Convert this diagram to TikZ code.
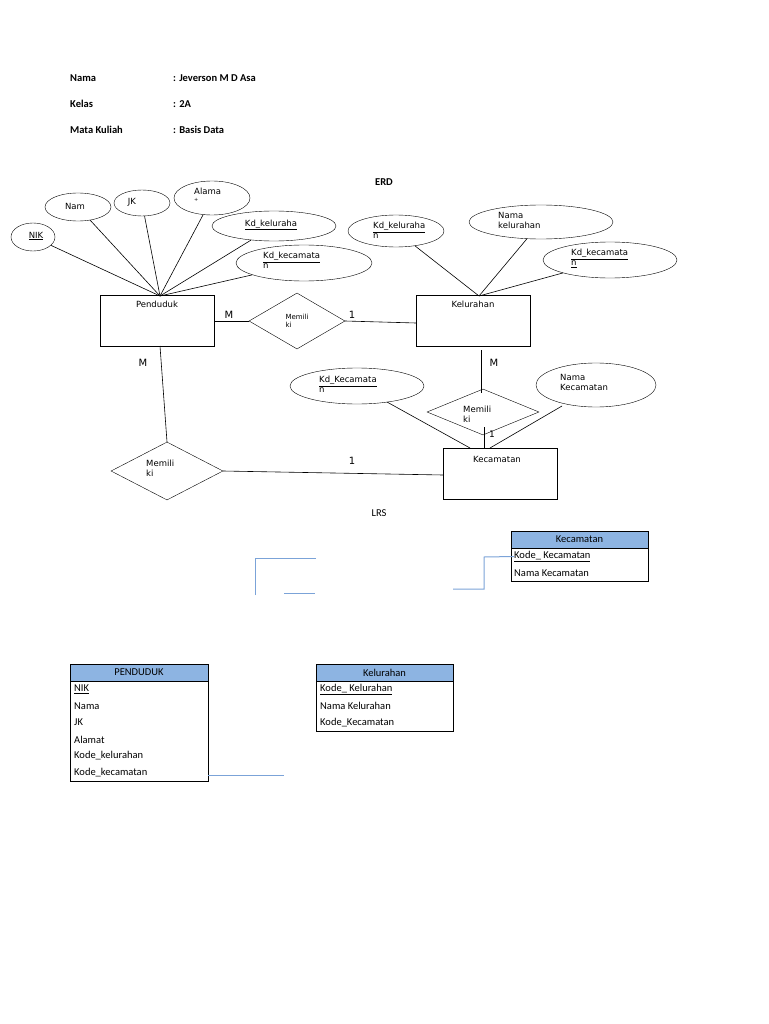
\documentclass[tikz,border=0pt]{standalone}
\usepackage{fontspec}
\setmainfont{DejaVu Sans}
\newfontfamily\calfnt{Carlito}
\usetikzlibrary{shapes.geometric}
\definecolor{hdr}{HTML}{8DB4E2}
\definecolor{lnk}{HTML}{7BA3D8}
\begin{document}
\begin{tikzpicture}[x=1pt,y=-1pt,
 ell/.style={draw,ellipse,minimum width=#1,inner sep=0pt},
 ent/.style={draw,minimum width=114pt,minimum height=51pt,inner sep=0pt},
 rel/.style={draw,diamond,aspect=2,inner sep=0pt},
 t/.style={font=\fontsize{8.5}{10}\selectfont,inner sep=0pt,align=left},
 h/.style={font=\calfnt\bfseries\fontsize{10.5}{12}\selectfont,anchor=west,inner sep=0pt},
 c/.style={font=\calfnt\fontsize{10.5}{12}\selectfont,anchor=west,inner sep=0pt},
 er/.style={line width=0.6pt}]
\useasboundingbox (0,0) rectangle (768,1024);
\fill[white] (0,0) rectangle (768,1024);
% header
\node[h] at (70,78) {Nama}; \node[h] at (173,78) {: Jeverson M D Asa};
\node[h] at (70,104) {Kelas}; \node[h] at (173,104) {: 2A};
\node[h] at (70,130) {Mata Kuliah}; \node[h] at (173,130) {: Basis Data};
\node[h,anchor=center] at (384,182) {ERD};
% Penduduk attributes
\node[ell=44pt,minimum height=28pt] (nik) at (33,237) {};
\node[t] at (36,236) {\underline{NIK}};
\node[ell=66pt,minimum height=28pt] (nam) at (78,207) {};
\node[t] at (75,206) {Nam};
\node[ell=56pt,minimum height=26pt] (jk) at (142,203) {};
\node[t] at (132,202) {JK};
\node[ell=76pt,minimum height=34pt] (alm) at (212,198) {};
\node[t,anchor=north west] at (194,188) {Alama\\[-3pt]\tiny +};
\node[ell=124pt,minimum height=30pt] (kkl) at (274,226) {};
\node[t] at (271,225) {\underline{Kd\_keluraha}};
\node[ell=136pt,minimum height=36pt] (kkc) at (304,263) {};
\node[t,anchor=north west] at (263,252) {\underline{Kd\_kecamata}\\n};
\node[ent] (pen) at (157,321) {};
\node[t] at (157,304) {Penduduk};
\coordinate (pt) at (160,296);
\foreach \a in {nik,nam,jk,alm,kkl,kkc} \draw[er] (\a) -- (pt);
% relationship 1
\node[rel,minimum width=96pt,minimum height=56pt] (r1) at (297,321) {};
\node[t,font=\fontsize{7}{8}\selectfont] at (297,321) {Memili\\ki};
\node[ent] (kel) at (473,321) {};
\node[t] at (473,304) {Kelurahan};
\draw[er] (pen.east) -- (r1.west);
\draw[er] (r1.east) -- (416,323);
\node[t,font=\fontsize{10}{12}\selectfont] at (229,315) {M};
\node[t,font=\fontsize{10}{12}\selectfont] at (352,315) {1};
% Kelurahan attributes
\node[ell=96pt,minimum height=32pt] (kkl2) at (396,231) {};
\node[t,anchor=north west] at (373,222) {\underline{Kd\_keluraha}\\n};
\node[ell=144pt,minimum height=34pt] (nkl) at (541,222) {};
\begin{scope}
\clip (470,205) rectangle (610,230);
\node[t,anchor=north west] at (498,212) {Nama\\kelurahan};
\end{scope}
\node[ell=134pt,minimum height=36pt] (kkc2) at (610,260) {};
\node[t,anchor=north west] at (571,249) {\underline{Kd\_kecamata}\\\underline{n}};
\coordinate (kt) at (479,296);
\foreach \a in {kkl2,nkl,kkc2} \draw[er] (\a) -- (kt);
% relationship 2
\node[rel,minimum width=112pt,minimum height=46pt] (r2) at (483,412) {};
\begin{scope}
\clip (440,400) rectangle (530,421);
\node[t,anchor=north west] at (463,406) {Memili\\ki};
\end{scope}
\coordinate (k1) at (481,350); \coordinate (k2) at (481,393);
\draw[er] (k1) -- (k2);
\node[t,font=\fontsize{10}{12}\selectfont] at (494,363) {M};
\node[ent] (kec) at (500,474) {};
\node[t] at (497,459) {Kecamatan};
\coordinate (k3) at (484,427); \coordinate (k4) at (484,448);
\draw[er] (k3) -- (k4);
\node[t,font=\fontsize{9}{10}\selectfont] at (492,434) {1};
\node[ell=134pt,minimum height=36pt] (kkc3) at (357,386) {};
\node[t,anchor=north west] at (319,376) {\underline{Kd\_Kecamata}\\n};
\node[ell=120pt,minimum height=44pt] (nkc) at (596,385) {};
\node[t,anchor=north west] at (560,374) {Nama\\Kecamatan};
\coordinate (ka) at (470,448); \coordinate (kb) at (490,448);
\draw[er] (387,402) -- (ka);
\draw[er] (562,406) -- (kb);
% relationship 3
\node[rel,minimum width=112pt,minimum height=58pt] (r3) at (167,471) {};
\node[t,anchor=north west] at (146,460) {Memili\\ki};
\coordinate (p1) at (160,346);
\draw[er] (p1) -- (r3.north);
\node[t,font=\fontsize{10}{12}\selectfont] at (143,363) {M};
\coordinate (ke) at (443,475);
\draw[er] (r3.east) -- (ke);
\node[t,font=\fontsize{10}{12}\selectfont] at (352,461) {1};
% LRS
\node[c,anchor=center] at (379,513) {LRS};
% Kecamatan table
\draw[fill=hdr] (511,531) rectangle (648,548);
\draw (511,548) rectangle (648,581);
\node[c,anchor=center] at (579.5,539.5) {Kecamatan};
\node[c] (kkode) at (514,556.5) {\underline{Kode\_ Kecamatan}};
\node[c] at (514,573) {Nama Kecamatan};
\coordinate (l1) at (453,589);
\draw[lnk,line width=1pt] (kkode.west) -- (484,557) -- (484,589) -- (l1);
\coordinate (l2) at (255,595); \coordinate (l3) at (316,558);
\draw[lnk,line width=1pt] (l2) -- (255,558) -- (l3);
\coordinate (l4) at (284,593); \coordinate (l5) at (315,593);
\draw[lnk,line width=1pt] (l4) -- (l5);
% PENDUDUK table
\draw[fill=hdr] (70,664) rectangle (208,681);
\draw (70,681) rectangle (208,781);
\node[c,anchor=center] at (139,672.5) {PENDUDUK};
\node[c] at (74,689.5) {\underline{NIK}};
\node[c] at (74,706) {Nama};
\node[c] at (74,722.5) {JK};
\node[c] at (74,739.5) {Alamat};
\node[c] at (74,756) {Kode\_kelurahan};
\node[c] (pkc) at (74,772.5) {Kode\_kecamatan};
\coordinate (l6) at (284,775);
\draw[lnk,line width=0.8pt] (208,775) -- (l6);
% Kelurahan table
\draw[fill=hdr] (316,664) rectangle (453,681);
\draw (316,681) rectangle (453,731);
\node[c,anchor=center] at (384.5,672.5) {Kelurahan};
\node[c] at (320,689.5) {\underline{Kode\_ Kelurahan}};
\node[c] at (320,706) {Nama Kelurahan};
\node[c] at (320,722.5) {Kode\_Kecamatan};
\end{tikzpicture}
\end{document}
